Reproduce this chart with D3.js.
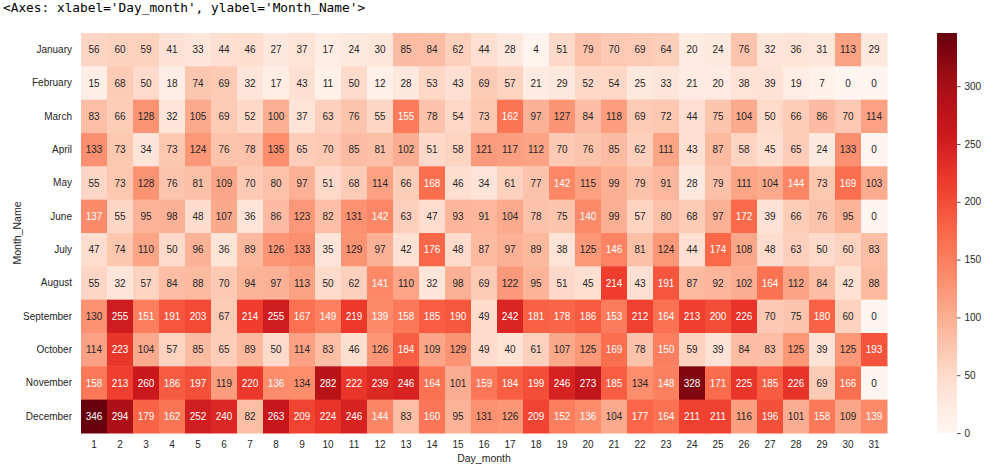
<!DOCTYPE html>
<html>
<head>
<meta charset="utf-8">
<script src="https://cdn.jsdelivr.net/npm/d3@7"></script>
<style>
  body { margin: 0; background: #fff; }
  text { font-family: "Liberation Sans", Arial, sans-serif; }
</style>
</head>
<body>
<div id="chart"></div>
<script>
const months = ["January", "February", "March", "April", "May", "June",
  "July", "August", "September", "October", "November", "December"];
const days = d3.range(1, 32);

const january   = [56, 60, 59, 41, 33, 44, 46, 27, 37, 17, 24, 30, 85, 84, 62, 44, 28, 4, 51, 79, 70, 69, 64, 20, 24, 76, 32, 36, 31, 113, 29];
const february  = [15, 68, 50, 18, 74, 69, 32, 17, 43, 11, 50, 12, 28, 53, 43, 69, 57, 21, 29, 52, 54, 25, 33, 21, 20, 38, 39, 19, 7, 0, 0];
const march     = [83, 66, 128, 32, 105, 69, 52, 100, 37, 63, 76, 55, 155, 78, 54, 73, 162, 97, 127, 84, 118, 69, 72, 44, 75, 104, 50, 66, 86, 70, 114];
const april     = [133, 73, 34, 73, 124, 76, 78, 135, 65, 70, 85, 81, 102, 51, 58, 121, 117, 112, 70, 76, 85, 62, 111, 43, 87, 58, 45, 65, 24, 133, 0];
const may       = [55, 73, 128, 76, 81, 109, 70, 80, 97, 51, 68, 114, 66, 168, 46, 34, 61, 77, 142, 115, 99, 79, 91, 28, 79, 111, 104, 144, 73, 169, 103];
const june      = [137, 55, 95, 98, 48, 107, 36, 86, 123, 82, 131, 142, 63, 47, 93, 91, 104, 78, 75, 140, 99, 57, 80, 68, 97, 172, 39, 66, 76, 95, 0];
const july      = [47, 74, 110, 50, 96, 36, 89, 126, 133, 35, 129, 97, 42, 176, 48, 87, 97, 89, 38, 125, 146, 81, 124, 44, 174, 108, 48, 63, 50, 60, 83];
const august    = [55, 32, 57, 84, 88, 70, 94, 97, 113, 50, 62, 141, 110, 32, 98, 69, 122, 95, 51, 45, 214, 43, 191, 87, 92, 102, 164, 112, 84, 42, 88];
const september = [130, 255, 151, 191, 203, 67, 214, 255, 167, 149, 219, 139, 158, 185, 190, 49, 242, 181, 178, 186, 153, 212, 164, 213, 200, 226, 70, 75, 180, 60, 0];
const october   = [114, 223, 104, 57, 85, 65, 89, 50, 114, 83, 46, 126, 184, 109, 129, 49, 40, 61, 107, 125, 169, 78, 150, 59, 39, 84, 83, 125, 39, 125, 193];
const november  = [158, 213, 260, 186, 197, 119, 220, 136, 134, 282, 222, 239, 246, 164, 101, 159, 184, 199, 246, 273, 185, 134, 148, 328, 171, 225, 185, 226, 69, 166, 0];
const december  = [346, 294, 179, 162, 252, 240, 82, 263, 209, 224, 246, 144, 83, 160, 95, 131, 126, 209, 152, 136, 104, 177, 164, 211, 211, 116, 196, 101, 158, 109, 139];

const rows = [january, february, march, april, may, june, july, august, september, october, november, december];
const colorTicks = [0, 50, 100, 150, 200, 250, 300];

const cells = [];
rows.forEach((r, i) => r.forEach((v, j) => cells.push({ month: months[i], day: days[j], value: v })));

const width = 996, height = 472;
const heat = { left: 81, top: 33, right: 887, bottom: 433 };

const svg = d3.select("#chart").append("svg")
  .attr("width", width)
  .attr("height", height);

svg.append("text")
  .attr("x", 3)
  .attr("y", 12)
  .style("font-family", "'DejaVu Sans Mono', monospace")
  .style("font-size", "12.8px")
  .attr("fill", "#000")
  .text("<Axes: xlabel='Day_month', ylabel='Month_Name'>");

const x = d3.scaleBand().domain(days).range([heat.left, heat.right]);
const y = d3.scaleBand().domain(months).range([heat.top, heat.bottom]);

// matplotlib "Reds" = ColorBrewer 9 stops, linear in RGB
const reds = ["#fff5f0", "#fee0d2", "#fcbba1", "#fc9272", "#fb6a4a", "#ef3b2c", "#cb181d", "#a50f15", "#67000d"];
const vmax = d3.max(cells, d => d.value);
const color = d3.scaleLinear()
  .domain(reds.map((_, i) => i / (reds.length - 1) * vmax))
  .range(reds)
  .interpolate(d3.interpolateRgb);

function luminance(c) {
  const rgb = d3.rgb(c);
  const lin = [rgb.r, rgb.g, rgb.b].map(v => {
    v /= 255;
    return v <= 0.03928 ? v / 12.92 : Math.pow((v + 0.055) / 1.055, 2.4);
  });
  return 0.2126 * lin[0] + 0.7152 * lin[1] + 0.0722 * lin[2];
}

svg.append("g").selectAll("rect")
  .data(cells)
  .enter().append("rect")
  .attr("x", d => x(d.day))
  .attr("y", d => y(d.month))
  .attr("width", x.bandwidth() + 0.5)
  .attr("height", y.bandwidth() + 0.5)
  .attr("fill", d => color(d.value));

svg.append("g").selectAll("text")
  .data(cells)
  .enter().append("text")
  .attr("x", d => x(d.day) + x.bandwidth() / 2)
  .attr("y", d => y(d.month) + y.bandwidth() / 2)
  .attr("text-anchor", "middle")
  .attr("dominant-baseline", "central")
  .style("font-size", "10px")
  .attr("fill", d => luminance(color(d.value)) > 0.408 ? "#262626" : "#fff")
  .text(d => d.value);

// axes
const xAxis = svg.append("g")
  .attr("transform", `translate(0,${heat.bottom})`)
  .call(d3.axisBottom(x).tickSize(0).tickPadding(8));
xAxis.select(".domain").remove();
xAxis.selectAll("text").style("font-size", "10px").attr("fill", "#262626")
  .style("font-family", "'Liberation Sans', Arial, sans-serif");

const yAxis = svg.append("g")
  .attr("transform", `translate(${heat.left},0)`)
  .call(d3.axisLeft(y).tickSize(0).tickPadding(9));
yAxis.select(".domain").remove();
yAxis.selectAll("text").style("font-size", "10px").attr("fill", "#262626")
  .style("font-family", "'Liberation Sans', Arial, sans-serif");

svg.append("text")
  .attr("x", (heat.left + heat.right) / 2)
  .attr("y", 462)
  .attr("text-anchor", "middle")
  .style("font-size", "10.5px")
  .attr("fill", "#262626")
  .text("Day_month");

svg.append("text")
  .attr("transform", `translate(21,${(heat.top + heat.bottom) / 2}) rotate(-90)`)
  .attr("text-anchor", "middle")
  .style("font-size", "10.5px")
  .attr("fill", "#262626")
  .text("Month_Name");

// colorbar
const cb = { left: 937, width: 20 };
const cy = d3.scaleLinear().domain([0, vmax]).range([heat.bottom, heat.top]);

const defs = svg.append("defs");
const grad = defs.append("linearGradient")
  .attr("id", "redsGrad")
  .attr("x1", 0).attr("y1", 1).attr("x2", 0).attr("y2", 0);
d3.range(0, 1.0001, 0.05).forEach(t => {
  grad.append("stop").attr("offset", t).attr("stop-color", color(t * vmax));
});

svg.append("rect")
  .attr("x", cb.left)
  .attr("y", heat.top)
  .attr("width", cb.width)
  .attr("height", heat.bottom - heat.top)
  .attr("fill", "url(#redsGrad)");

const cAxis = svg.append("g")
  .attr("transform", `translate(${cb.left + cb.width},0)`)
  .call(d3.axisRight(cy).tickValues(colorTicks).tickSize(3.5).tickPadding(4));
cAxis.select(".domain").remove();
cAxis.selectAll("line").attr("stroke", "#262626").attr("stroke-width", 0.8);
cAxis.selectAll("text").style("font-size", "10px").attr("fill", "#262626")
  .style("font-family", "'Liberation Sans', Arial, sans-serif");
</script>
</body>
</html>
